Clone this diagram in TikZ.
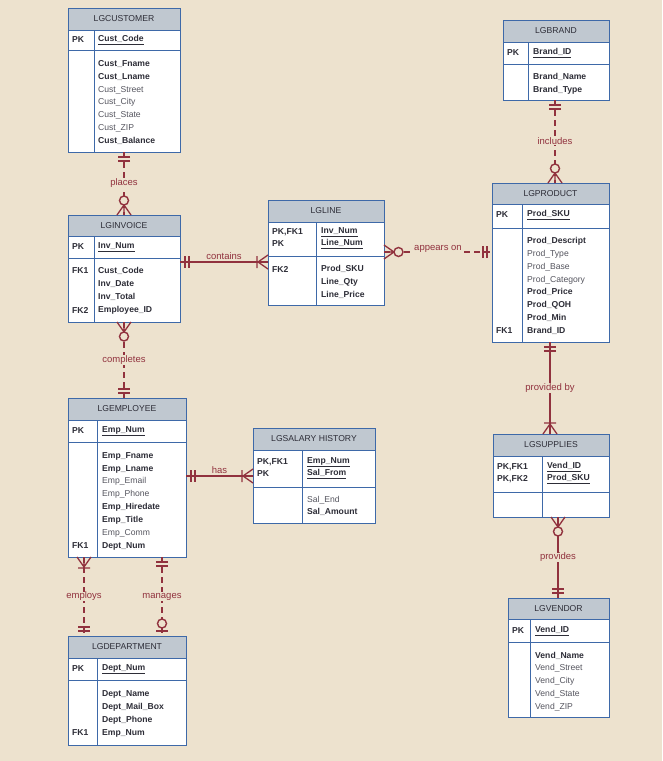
\documentclass[tikz,border=0pt]{standalone}
\usepackage{fontspec}
\setmainfont{Liberation Sans}
\begin{document}
\definecolor{bg}{RGB}{237,226,206}
\definecolor{hd}{RGB}{192,200,208}
\definecolor{bd}{RGB}{62,105,168}
\definecolor{rl}{RGB}{145,50,62}
\definecolor{tx}{RGB}{45,45,55}
\definecolor{tg}{RGB}{85,85,95}
\begin{tikzpicture}[x=1pt,y=-1pt,
  f/.style={font=\fontsize{8.6}{9}\selectfont\bfseries,text=tx,inner sep=0pt,anchor=west},
  g/.style={font=\fontsize{8.6}{9}\selectfont,text=tg,inner sep=0pt,anchor=west},
  ttl/.style={font=\fontsize{8.6}{9}\selectfont,text=tx,inner sep=0pt},
  rel/.style={draw=rl,line width=1.4pt},
  lbl/.style={font=\fontsize{9.5}{10}\selectfont,text=rl,fill=bg,inner sep=0.5pt}]
\fill[bg] (0,0) rectangle (662,761);
\useasboundingbox (0,0) rectangle (662,761);
\newcommand\tbl[9]{%
  \fill[white] (#2,#5) rectangle (#3,#8);
  \fill[hd] (#2,#5) rectangle (#3,#6);
  \draw[bd,line width=1pt] (#2,#5) rectangle (#3,#8);
  \draw[bd,line width=1pt] (#2,#6) -- (#3,#6) (#2,#7) -- (#3,#7) (#4,#6) -- (#4,#8);
  \node[ttl] (#1) at ({(#2+#3)/2},{(#5+#6)/2}) {#9};}
\newcommand\bars[2]{\begin{scope}[shift={(#1)},rotate=#2]\draw[rl,line width=1.3pt](5,-6)--(5,6)(9,-6)--(9,6);\end{scope}}
\newcommand\crowbar[2]{\begin{scope}[shift={(#1)},rotate=#2]\draw[rl,line width=1.3pt](0,-7)--(10,0)--(0,7)(0,0)--(10,0)(11,-6)--(11,6);\end{scope}}
\newcommand\crowcirc[2]{\begin{scope}[shift={(#1)},rotate=#2]\draw[rl,line width=1.3pt](0,-7)--(10,0)--(0,7)(0,0)--(10,0);\draw[rl,line width=1.4pt,fill=bg](14.5,0) circle (4.5);\end{scope}}
\newcommand\circbar[2]{\begin{scope}[shift={(#1)},rotate=#2]\draw[rl,line width=1.3pt](5,-6)--(5,6);\draw[rl,line width=1.4pt,fill=bg](12.5,0) circle (4.5);\end{scope}}

\tbl{cust}{68}{180}{94}{8}{30}{50}{152}{LGCUSTOMER}
\node[f] at (72,40) {PK};
\node[f] at (98,40) {\underline{Cust\_Code}};
\node[f] at (98,64) {Cust\_Fname};
\node[f] at (98,77) {Cust\_Lname};
\node[g] at (98,90) {Cust\_Street};
\node[g] at (98,102) {Cust\_City};
\node[g] at (98,115) {Cust\_State};
\node[g] at (98,128) {Cust\_ZIP};
\node[f] at (98,141) {Cust\_Balance};

\tbl{inv}{68}{180}{94}{215}{236}{258}{322}{LGINVOICE}
\node[f] at (72,247) {PK};
\node[f] at (98,247) {\underline{Inv\_Num}};
\node[f] at (72,271) {FK1};
\node[f] at (98,271) {Cust\_Code};
\node[f] at (98,284) {Inv\_Date};
\node[f] at (98,297) {Inv\_Total};
\node[f] at (72,310) {FK2};
\node[f] at (98,310) {Employee\_ID};

\tbl{line}{268}{384}{316}{200}{222}{256}{305}{LGLINE}
\node[f] at (272,232) {PK,FK1};
\node[f] at (272,244) {PK};
\node[f] at (321,232) {\underline{Inv\_Num}};
\node[f] at (321,244) {\underline{Line\_Num}};
\node[f] at (272,269) {FK2};
\node[f] at (321,269) {Prod\_SKU};
\node[f] at (321,282) {Line\_Qty};
\node[f] at (321,295) {Line\_Price};

\tbl{emp}{68}{186}{97}{398}{420}{442}{557}{LGEMPLOYEE}
\node[f] at (72,431) {PK};
\node[f] at (102,431) {\underline{Emp\_Num}};
\node[f] at (102,456) {Emp\_Fname};
\node[f] at (102,469) {Emp\_Lname};
\node[g] at (102,481) {Emp\_Email};
\node[g] at (102,494) {Emp\_Phone};
\node[f] at (102,507) {Emp\_Hiredate};
\node[f] at (102,520) {Emp\_Title};
\node[g] at (102,533) {Emp\_Comm};
\node[f] at (72,546) {FK1};
\node[f] at (102,546) {Dept\_Num};

\tbl{sal}{253}{375}{302}{428}{450}{487}{523}{LGSALARY\ HISTORY}
\node[f] at (257,462) {PK,FK1};
\node[f] at (257,474) {PK};
\node[f] at (307,462) {\underline{Emp\_Num}};
\node[f] at (307,474) {\underline{Sal\_From}};
\node[g] at (307,500) {Sal\_End};
\node[f] at (307,512) {Sal\_Amount};

\tbl{dept}{68}{186}{97}{636}{658}{680}{745}{LGDEPARTMENT}
\node[f] at (72,669) {PK};
\node[f] at (102,669) {\underline{Dept\_Num}};
\node[f] at (102,694) {Dept\_Name};
\node[f] at (102,707) {Dept\_Mail\_Box};
\node[f] at (102,720) {Dept\_Phone};
\node[f] at (72,733) {FK1};
\node[f] at (102,733) {Emp\_Num};

\tbl{brand}{503}{609}{528}{20}{42}{64}{100}{LGBRAND}
\node[f] at (507,53) {PK};
\node[f] at (533,53) {\underline{Brand\_ID}};
\node[f] at (533,77) {Brand\_Name};
\node[f] at (533,90) {Brand\_Type};

\tbl{prod}{492}{609}{522}{183}{204}{228}{342}{LGPRODUCT}
\node[f] at (496,215) {PK};
\node[f] at (527,215) {\underline{Prod\_SKU}};
\node[f] at (527,241) {Prod\_Descript};
\node[g] at (527,254) {Prod\_Type};
\node[g] at (527,267) {Prod\_Base};
\node[g] at (527,280) {Prod\_Category};
\node[f] at (527,292) {Prod\_Price};
\node[f] at (527,305) {Prod\_QOH};
\node[f] at (527,318) {Prod\_Min};
\node[f] at (496,331) {FK1};
\node[f] at (527,331) {Brand\_ID};

\tbl{sup}{493}{609}{542}{434}{456}{492}{517}{LGSUPPLIES}
\node[f] at (497,467) {PK,FK1};
\node[f] at (497,479) {PK,FK2};
\node[f] at (547,467) {\underline{Vend\_ID}};
\node[f] at (547,479) {\underline{Prod\_SKU}};

\tbl{vend}{508}{609}{530}{598}{619}{642}{717}{LGVENDOR}
\node[f] at (512,631) {PK};
\node[f] at (535,631) {\underline{Vend\_ID}};
\node[f] at (535,656) {Vend\_Name};
\node[g] at (535,668) {Vend\_Street};
\node[g] at (535,681) {Vend\_City};
\node[g] at (535,694) {Vend\_State};
\node[g] at (535,707) {Vend\_ZIP};

\coordinate (c1) at (124,152); \coordinate (c2) at (124,215);
\coordinate (i1) at (180,262); \coordinate (l1) at (268,262);
\coordinate (l2) at (384,252); \coordinate (p1) at (492,252);
\coordinate (b1) at (555,100); \coordinate (p2) at (555,183);
\coordinate (p3) at (550,342); \coordinate (s1) at (550,434);
\coordinate (s2) at (558,517); \coordinate (v1) at (558,598);
\coordinate (i2) at (124,322); \coordinate (e1) at (124,398);
\coordinate (e2) at (186,476); \coordinate (h1) at (253,476);
\coordinate (e3) at (84,557);  \coordinate (d1) at (84,636);
\coordinate (e4) at (162,557); \coordinate (d2) at (162,636);

\draw[rel,dash pattern=on 6pt off 4pt] (c1) -- node[lbl]{places} (c2);
\bars{c1}{-90}\crowcirc{c2}{90}
\draw[rel] (i1) -- node[lbl,above=1pt]{contains} (l1);
\bars{i1}{0}\crowbar{l1}{180}
\draw[rel,dash pattern=on 6pt off 4pt] (l2) -- node[lbl,above=-2pt]{appears on} (p1);
\crowcirc{l2}{0}\bars{p1}{180}
\draw[rel,dash pattern=on 6pt off 4pt] (b1) -- node[lbl]{includes} (p2);
\bars{b1}{-90}\crowcirc{p2}{90}
\draw[rel] (p3) -- node[lbl]{provided by} (s1);
\bars{p3}{-90}\crowbar{s1}{90}
\draw[rel] (s2) -- node[lbl]{provides} (v1);
\crowcirc{s2}{-90}\bars{v1}{90}
\draw[rel,dash pattern=on 6pt off 4pt] (i2) -- node[lbl]{completes} (e1);
\crowcirc{i2}{-90}\bars{e1}{90}
\draw[rel] (e2) -- node[lbl,above=1pt]{has} (h1);
\bars{e2}{0}\crowbar{h1}{180}
\draw[rel,dash pattern=on 6pt off 4pt] (e3) -- node[lbl]{employs} (d1);
\crowbar{e3}{-90}\bars{d1}{90}
\draw[rel,dash pattern=on 6pt off 4pt] (e4) -- node[lbl]{manages} (d2);
\bars{e4}{-90}\circbar{d2}{90}
\end{tikzpicture}
\end{document}
